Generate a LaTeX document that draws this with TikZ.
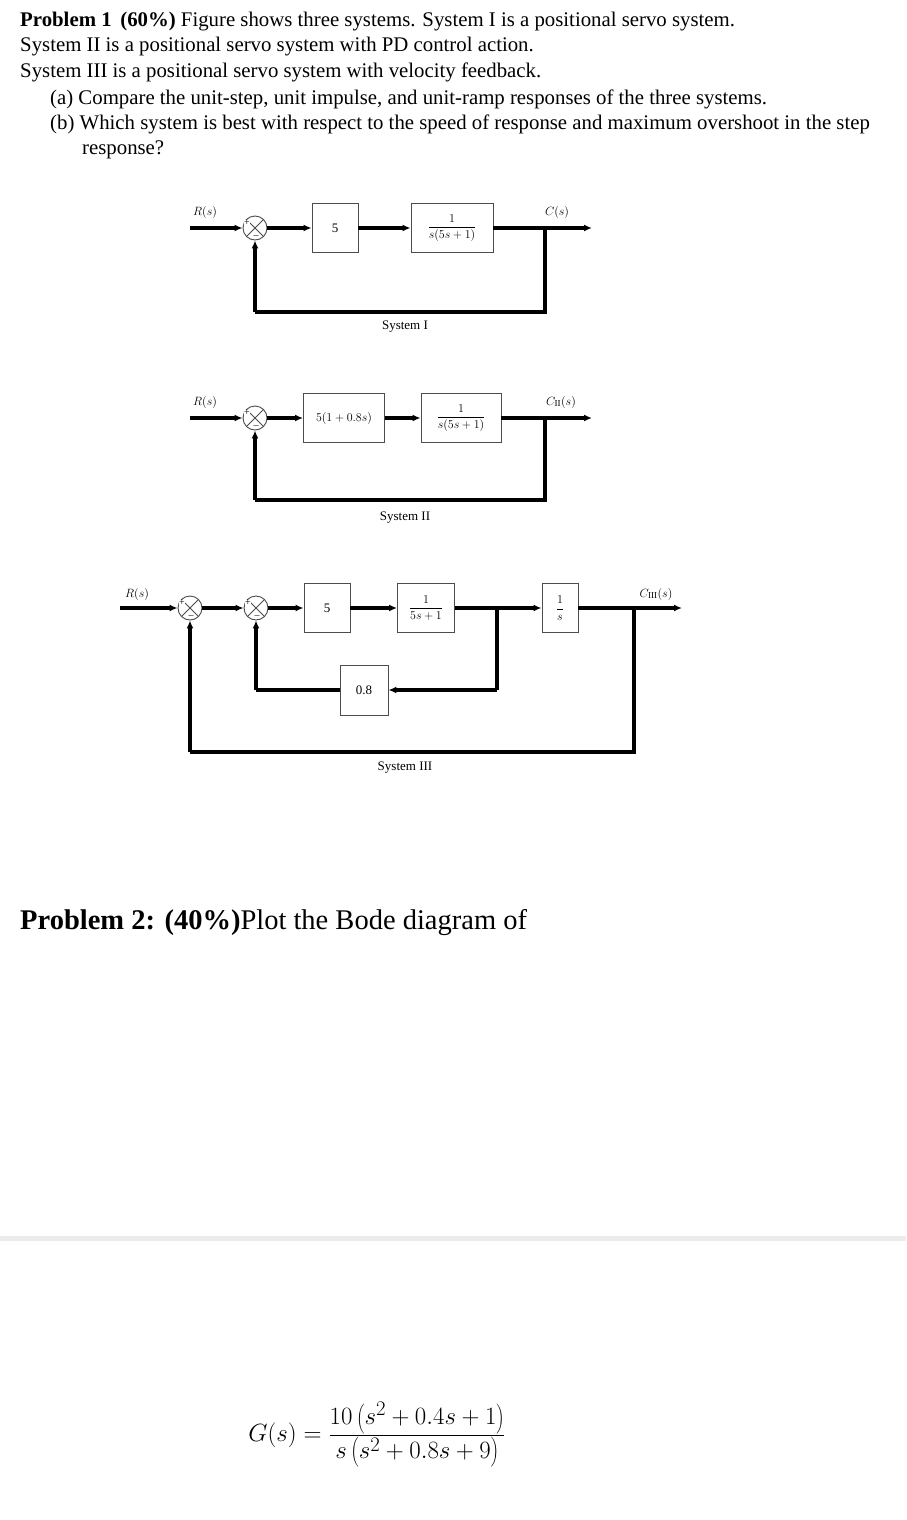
\documentclass[tikz,border=0pt]{standalone}
\usepackage{fontspec}
\setmainfont{Liberation Serif}
\usetikzlibrary{arrows.meta}
\begin{document}
\begin{tikzpicture}[x=1pt,y=-1pt,
  blk/.style={draw=black!70,line width=0.9pt,minimum height=49pt,inner sep=2pt,font=\fontsize{13}{15}\selectfont},
  sumj/.style={circle,draw=black!70,line width=0.9pt,minimum size=24pt,inner sep=0pt,path picture={
     \draw[black!70,line width=0.9pt] (path picture bounding box.south west)--(path picture bounding box.north east)
     (path picture bounding box.north west)--(path picture bounding box.south east);}},
  sig/.style={line width=3.3pt},
  sa/.style={line width=3.3pt,-{Latex[length=8pt,width=7pt]}},
  lab/.style={font=\fontsize{13}{15}\selectfont},
  sgn/.style={font=\fontsize{10}{10}\selectfont,inner sep=0pt,fill=white},
  txt/.style={anchor=west,font=\fontsize{20.8}{22}\selectfont,inner sep=0pt}]
\useasboundingbox (0,0) rectangle (906,1520);
\fill[white] (0,0) rectangle (906,1520);
% text
\node[txt] (t1) at (20,22) {\textbf{Problem 1\, (60\%)} Figure shows three systems. System I is a positional servo system.};
\node[txt] (t2) at (20,47) {System II is a positional servo system with PD control action.};
\node[txt] (t3) at (20,72) {System III is a positional servo system with velocity feedback.};
\node[txt] (t4) at (50,99) {(a) Compare the unit-step, unit impulse, and unit-ramp responses of the three systems.};
\node[txt] (t5) at (50,124) {(b) Which system is best with respect to the speed of response and maximum overshoot in the step};
\node[txt] (t6) at (82,150) {response?};
% System I
\coordinate (in1) at (190,228);
\node[sumj] (s1) at (255,228) {};
\node[sgn] (p1) at (247,223) {+};\node[sgn] (m1) at (256,237) {--};
\node[blk,minimum width=46pt] (a1) at (335,228) {5};
\node[blk,minimum width=82pt] (b1) at (452,228) {$\displaystyle\frac{1}{s(5s+1)}$};
\coordinate (o1) at (592,228); \coordinate (k1) at (545,228);
\coordinate (f1) at (545,312); \coordinate (g1) at (255,312);
\draw[sa] (in1)--(s1); \draw[sa] (s1)--(a1); \draw[sa] (a1)--(b1); \draw[sa] (b1)--(o1);
\draw[sig] (k1)--(f1)--(g1); \draw[sa] (g1)--(s1);
\node[lab] (r1) at (205,212) {$R(s)$}; \node[lab] (c1) at (557,212) {$C(s)$};
\node[lab] (n1) at (405,327) {System I};
% System II
\coordinate (in2) at (190,418);
\node[sumj] (s2) at (255,418) {};
\node[sgn] (p2) at (247,413) {+};\node[sgn] (m2) at (256,427) {--};
\node[blk,minimum width=81pt] (a2) at (344,418) {$5(1+0.8s)$};
\node[blk,minimum width=80pt] (b2) at (461,418) {$\displaystyle\frac{1}{s(5s+1)}$};
\coordinate (o2) at (592,418); \coordinate (k2) at (545,418);
\coordinate (f2) at (545,500); \coordinate (g2) at (255,500);
\draw[sa] (in2)--(s2); \draw[sa] (s2)--(a2); \draw[sa] (a2)--(b2); \draw[sa] (b2)--(o2);
\draw[sig] (k2)--(f2)--(g2); \draw[sa] (g2)--(s2);
\node[lab] (r2) at (205,402) {$R(s)$}; \node[lab] (c2) at (561,402) {$C_{\mathrm{II}}(s)$};
\node[lab] (n2) at (405,518) {System II};
% System III
\coordinate (in3) at (120,608);
\node[sumj] (s3) at (190,608) {};
\node[sgn] (p3) at (182,603) {+};\node[sgn] (m3) at (191,617) {--};
\node[sumj] (s4) at (256,608) {};
\node[sgn] (p4) at (248,603) {+};\node[sgn] (m4) at (257,617) {--};
\node[blk,minimum width=46pt] (a3) at (327,608) {5};
\node[blk,minimum width=57pt] (b3) at (426,608) {$\displaystyle\frac{1}{5s+1}$};
\node[blk,minimum width=36pt] (c3) at (560,608) {$\displaystyle\frac{1}{s}$};
\node[blk,minimum width=48pt,minimum height=50pt] (d3) at (364,690) {0.8};
\coordinate (o3) at (682,608); \coordinate (k3) at (497,608);
\coordinate (f3) at (497,690); \coordinate (g3) at (256,690);
\coordinate (k4) at (634,608); \coordinate (f4) at (634,752); \coordinate (g4) at (190,752);
\draw[sa] (in3)--(s3); \draw[sa] (s3)--(s4); \draw[sa] (s4)--(a3); \draw[sa] (a3)--(b3);
\draw[sa] (b3)--(c3); \draw[sa] (c3)--(o3);
\draw[sig] (k3)--(f3); \draw[sa] (f3)--(d3.east);
\draw[sig] (d3.west)--(g3); \draw[sa] (g3)--(s4);
\draw[sig] (k4)--(f4)--(g4); \draw[sa] (g4)--(s3);
\node[lab] (r3) at (137,594) {$R(s)$}; \node[lab] (cc3) at (656,594) {$C_{\mathrm{III}}(s)$};
\node[lab] (n3) at (405,768) {System III};
% Problem 2
\node[txt,font=\fontsize{28.5}{30}\selectfont] (pb2) at (20,923) {\textbf{Problem 2: (40\%)}Plot the Bode diagram of};
\fill[black!8] (0,1236) rectangle (906,1241);
\node[font=\fontsize{31}{34}\selectfont] (eq) at (377,1435) {$\displaystyle G(s)=\frac{10\left(s^2+0.4s+1\right)}{s\left(s^2+0.8s+9\right)}$};
\end{tikzpicture}
\end{document}
